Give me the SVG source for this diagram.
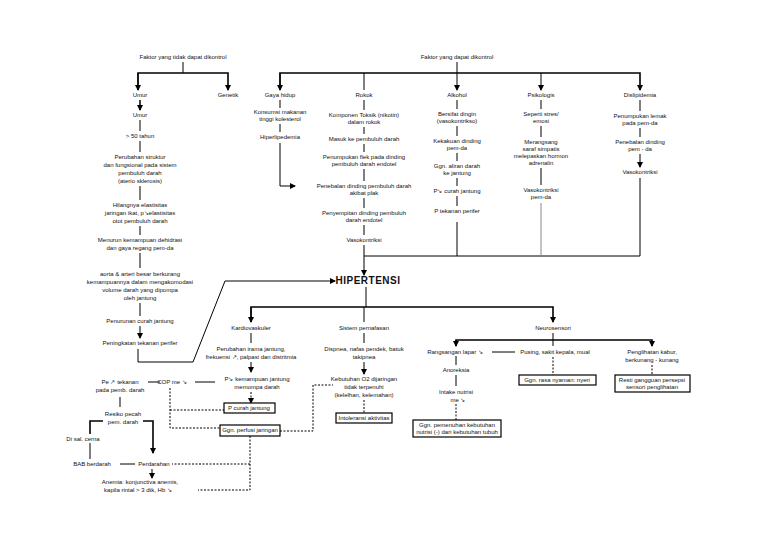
<svg xmlns="http://www.w3.org/2000/svg" width="768" height="543" viewBox="0 0 768 543">
<defs>
<marker id="a" markerWidth="6" markerHeight="6" refX="5" refY="3" orient="auto" markerUnits="userSpaceOnUse"><path d="M0,0 L6,3 L0,6 Z" fill="#000"/></marker>
<style>
text{font-family:"Liberation Sans",Arial,sans-serif;font-size:6px;fill:#111;text-anchor:middle}
.l{fill:none;stroke:#000;stroke-width:1}
.t{fill:none;stroke:#000;stroke-width:1.6}
.d{fill:none;stroke:#000;stroke-width:1;stroke-dasharray:2,1.5}
.g{fill:none;stroke:#888;stroke-width:1}
.b{fill:#fff;stroke:#000;stroke-width:1.2}
.h{font-size:10px;font-weight:bold;letter-spacing:0.5px}
</style>
</defs>
<rect width="768" height="543" fill="#fff"/>
<g id="connectors">
<path class="l" d="M183,62V73"/><path class="t" d="M138,90V73H228V90" marker-end="url(#a)"/><path class="l" d="M138,73V90" marker-end="url(#a)"/>
<path class="l" d="M140,100V110M140,120V131M140,141V152M140,186V200M140,226V235M140,253V268M140,303V316M140,326V338" marker-end="url(#a)"/>
<path class="l" d="M140,100V110" marker-end="url(#a)"/>
<path class="l" d="M138,349V362H193L225,281H335" marker-end="url(#a)"/>
<path class="l" d="M457,62V90" marker-end="url(#a)"/>
<path class="t" d="M280,90V73H640V90" marker-end="url(#a)"/><path class="l" d="M280,73V90" marker-end="url(#a)"/>
<path class="l" d="M364,73V90M541,73V90" marker-end="url(#a)"/>
<path class="l" d="M280,100V108M280,124V132M364,100V110M364,127V134M364,144V152M364,169V181M364,198V208M364,225V235M457,100V109M457,126V136M457,153V161M457,178V186M457,196V206M541,100V109M541,126V137M541,168V185M640,100V111M640,128V137M640,154V167" marker-end="url(#a)"/>
<path class="l" d="M280,143V186H295" marker-end="url(#a)"/>
<path class="l" d="M364,245V275" marker-end="url(#a)"/>
<path class="l" d="M364,256H640V178M457,256V222"/>
<path class="g" d="M541,203V256"/>
<path class="l" d="M366,287V307"/>
<path class="t" d="M251,322V307H553V322" marker-end="url(#a)"/><path class="l" d="M251,307V322" marker-end="url(#a)"/>
<path class="l" d="M364,307V322M251,333V343M251,362V372" marker-end="url(#a)"/>
<path class="l" d="M553,333V340"/>
<path class="t" d="M456,346V340H652V346" marker-end="url(#a)"/><path class="l" d="M456,340V346" marker-end="url(#a)"/>
<path class="l" d="M553,340V346M515,352H492M456,356V365M456,375V386M364,333V343M364,362V374" marker-end="url(#a)"/>
<path class="l" d="M215,382H195M160,382H148M120,397V407M90,443V459M120,464H135M152,469V478" marker-end="url(#a)"/>
<path class="t" d="M103,421H90V434M143,421H153V453" marker-end="url(#a)"/>
<path class="d" d="M251,392V403" marker-end="url(#a)"/>
<path class="d" d="M170,388V428H220M170,410H224M280,431H313V385H333M250,436V490H198M250,464H172"/>
<path class="d" d="M364,400V413M456,404V420M553,357V375M652,365V375"/>
</g>
<g id="n-top1"><text x="183" y="59">Faktor yang tidak dapat dikontrol</text></g>
<g id="n-top2"><text x="457" y="59">Faktor yang dapat dikontrol</text></g>
<g id="n-left">
<text x="140" y="97">Umur</text><text x="228" y="97">Genetik</text>
<text x="140" y="117">Umur</text><text x="140" y="138">&gt; 50 tahun</text>
<text x="140" y="159">Perubahan struktur</text><text x="140" y="167">dan fungsional pada sistem</text><text x="140" y="175">pembuluh darah</text><text x="140" y="183">(aterio sklerosis)</text>
<text x="140" y="207">Hilangnya elastisitas</text><text x="140" y="215">jaringan ikat, p↘elastisitas</text><text x="140" y="223">otot pembuluh darah</text>
<text x="140" y="242">Menurun kemampuan dehidrasi</text><text x="140" y="250">dan gaya regang pem-da</text>
<text x="140" y="276">aorta &amp; arteri besar berkurang</text><text x="140" y="284">kemampuannya dalam mengakomodasi</text><text x="140" y="292">volume darah yang dipompa</text><text x="140" y="300">oleh jantung</text>
<text x="140" y="323">Penurunan curah jantung</text><text x="140" y="345">Peningkatan tekanan perifer</text>
</g>
<g id="n-gaya"><text x="280" y="97">Gaya hidup</text><text x="280" y="114">Konsumsi makanan</text><text x="280" y="121">tinggi kolesterol</text><text x="280" y="139">Hiperlipedemia</text></g>
<g id="n-rokok"><text x="364" y="97">Rokok</text><text x="364" y="117">Komponen Toksik (nikotin)</text><text x="364" y="124">dalam rokok</text><text x="364" y="141">Masuk ke pembuluh darah</text><text x="364" y="159">Penumpukan flek pada dinding</text><text x="364" y="166">pembuluh darah endotel</text><text x="364" y="188">Penebalan dinding pembuluh darah</text><text x="364" y="195">akibat plak</text><text x="364" y="215">Penyempitan dinding pembuluh</text><text x="364" y="222">darah endotel</text><text x="364" y="242">Vasokontriksi</text></g>
<g id="n-alkohol"><text x="457" y="97">Alkohol</text><text x="457" y="116">Bersifat dingin</text><text x="457" y="123">(vasokontrikso)</text><text x="457" y="143">Kekakuan dinding</text><text x="457" y="150">pem-da</text><text x="457" y="168">Ggn. aliran darah</text><text x="457" y="175">ke jantung</text><text x="457" y="193">P↘ curah jantung</text><text x="457" y="213">P    tekanan perifer</text></g>
<g id="n-psi"><text x="541" y="97">Psikologis</text><text x="541" y="116">Seperti stres/</text><text x="541" y="123">emosi</text><text x="541" y="144">Merangsang</text><text x="541" y="151">saraf simpatis</text><text x="541" y="158">melepaskan hormon</text><text x="541" y="165">adrenalin</text><text x="541" y="192">Vasokontriksi</text><text x="541" y="199">pem-da</text></g>
<g id="n-dis"><text x="640" y="97">Dislipidemia</text><text x="640" y="118">Penumpukan lemak</text><text x="640" y="125">pada pem-da</text><text x="640" y="144">Penebalan dinding</text><text x="640" y="151">pem - da</text><text x="640" y="174">Vasokontriksi</text></g>
<g id="n-hip"><text class="h" x="368" y="284">HIPERTENSI</text></g>
<g id="n-kardio">
<text x="251" y="330">Kardiovaskuler</text><text x="251" y="351">Perubahan irama jantung,</text><text x="251" y="359">frekuensi ↗, palpasi dan distritmia</text>
<text x="257" y="381">P↘ kemampuan jantung</text><text x="257" y="389">memompa darah</text>
<rect class="b" x="224" y="403" width="51" height="10"/><text x="249" y="410">P    curah jantung</text>
<rect class="b" x="220" y="425" width="60" height="11"/><text x="250" y="432">Ggn. perfusi jaringan</text>
<text x="172" y="384">COP me ↘</text>
<text x="120" y="384">Pe ↗ tekanan</text><text x="120" y="392">pada pemb. darah</text>
<text x="123" y="416">Resiko pecah</text><text x="123" y="424">pem. darah</text>
<text x="83" y="441">Di sal. cerna</text><text x="92" y="466">BAB berdarah</text><text x="154" y="466">Perdarahan</text>
<text x="140" y="484">Anemia: konjunctiva anemis,</text><text x="138" y="492">kapila rintal &gt; 3 dtk, Hb ↘</text>
</g>
<g id="n-nafas"><text x="364" y="330">Sistem pernafasan</text><text x="364" y="351">Dispnea, nafas pendek, batuk</text><text x="364" y="359">takipnea</text><text x="364" y="381">Kebutuhan O2 dijaringan</text><text x="364" y="389">tidak terpenuhi</text><text x="364" y="397">(kelelhan, kelemahan)</text>
<rect class="b" x="336" y="413" width="56" height="10"/><text x="364" y="420">Intoleransi aktivitas</text></g>
<g id="n-neuro"><text x="553" y="330">Neurosensori</text>
<text x="455" y="354">Rangsangan lapar ↘</text><text x="456" y="372">Anoreksia</text><text x="456" y="394">Intake nutrisi</text><text x="458" y="402">me ↘</text>
<rect class="b" x="413" y="420" width="88" height="17"/><text x="457" y="427">Ggn. pemenuhan kebutuhan</text><text x="457" y="434">nutrisi (-) dari kebutuhan tubuh</text>
<text x="555" y="354">Pusing, sakit kepala, mual</text>
<rect class="b" x="519" y="375" width="77" height="10"/><text x="557" y="382">Ggn. rasa nyaman: nyeri</text>
<text x="652" y="354">Penglihatan kabur,</text><text x="652" y="362">berkunang - kunang</text>
<rect class="b" x="615" y="375" width="75" height="17"/><text x="652" y="382">Resti gangguan persepsi</text><text x="652" y="389">sensori penglihatan</text></g>
</svg>
